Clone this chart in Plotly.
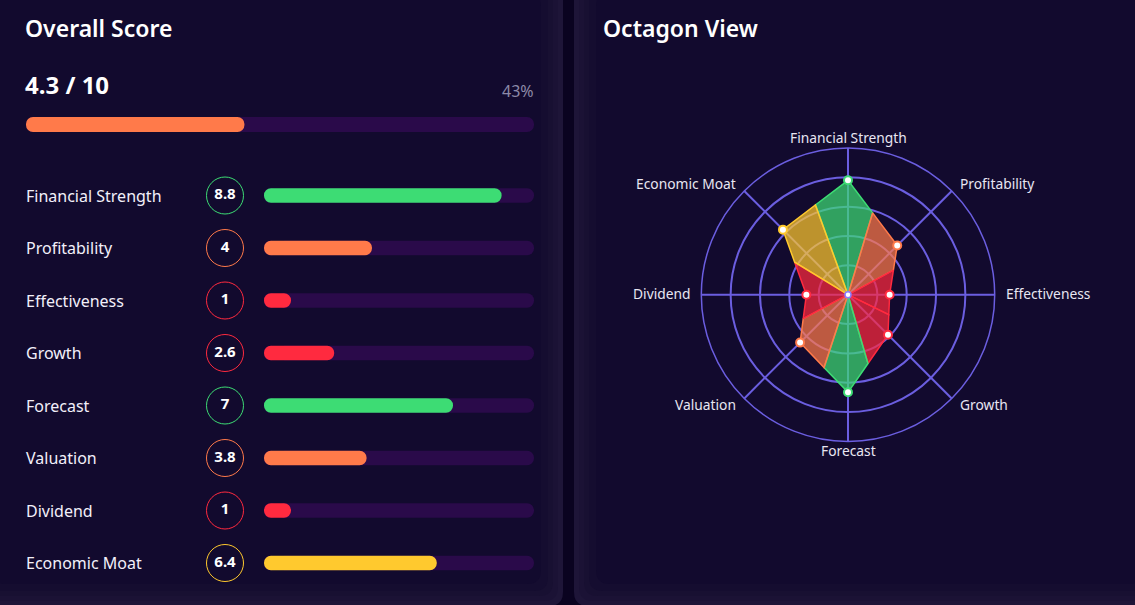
import numpy as np
import plotly.graph_objects as go

# scores
categories = ["Financial Strength", "Profitability", "Effectiveness", "Growth",
              "Forecast", "Valuation", "Dividend", "Economic Moat"]
scores = [8.8, 4, 1, 2.6, 7, 3.8, 1, 6.4]
max_score = 10

W, H = 1135, 605
BG = "#0a0320"
TRACK = "#2a0a4a"
GRID = "#6b5ee0"
FONT = "Noto Sans"


def score_color(v):
    if v >= 7:
        return "#3ddc74"
    if v >= 5:
        return "#ffc92e"
    if v >= 3:
        return "#ff7a4a"
    return "#ff2a3f"


def rgba(hex_color, a):
    h = hex_color.lstrip("#")
    return "rgba({},{},{},{})".format(int(h[0:2], 16), int(h[2:4], 16), int(h[4:6], 16), a)


def px(x):
    return x / W


def py(y):
    return 1 - y / H


def rounded_rect(x0, y0, x1, y1, r):
    # pixel box -> paper path with rounded corners
    rx, ry = r / W, r / H
    a, b, c, d = px(x0), py(y0), px(x1), py(y1)
    return ("M {},{} L {},{} Q {},{} {},{} L {},{} Q {},{} {},{} "
            "L {},{} Q {},{} {},{} L {},{} Q {},{} {},{} Z").format(
        a + rx, b, c - rx, b, c, b, c, b - ry, c, d + ry, c, d, c - rx, d,
        a + rx, d, a, d, a, d + ry, a, b - ry, a, b, a + rx, b)


overall = round(float(np.mean(scores)), 1)
rows = list(range(len(categories)))
colors = [score_color(v) for v in scores]
no_line = dict(width=0)
cap = 0.5  # short left piece of the track, so that its left end can be rounded too


def track_and_fill(ys, vals, cols, width, xa, ya):
    k = len(ys)
    fig.add_trace(go.Bar(y=ys, x=[max_score - cap] * k, base=[cap] * k, orientation="h", width=width,
                         marker=dict(color=TRACK, cornerradius=7, line=no_line),
                         xaxis=xa, yaxis=ya, hoverinfo="skip", showlegend=False))
    fig.add_trace(go.Bar(y=ys, x=[-cap] * k, base=[cap] * k, orientation="h", width=width,
                         marker=dict(color=TRACK, cornerradius=7, line=no_line),
                         xaxis=xa, yaxis=ya, hoverinfo="skip", showlegend=False))
    fig.add_trace(go.Bar(y=ys, x=[-v for v in vals], base=vals, orientation="h", width=width,
                         marker=dict(color=cols, cornerradius=7, line=no_line),
                         xaxis=xa, yaxis=ya, hoverinfo="skip", showlegend=False))


fig = go.Figure()

track_and_fill(rows, scores, colors, 0.28, "x", "y")
track_and_fill([0], [overall], [score_color(overall)], 1, "x2", "y2")

# ---- score badges
fig.add_trace(go.Scatter(
    x=[0.5] * len(rows), y=rows, mode="markers+text",
    text=["{:g}".format(v) for v in scores], textposition="middle center",
    textfont=dict(family=FONT, size=15, color="white", weight="bold"),
    marker=dict(size=37, color="rgba(0,0,0,0)", line=dict(width=1, color=colors)),
    xaxis="x3", yaxis="y", hoverinfo="skip", showlegend=False))

# ---- radar, one wedge per axis
r_min, r_max = -3.46, 12.26
n = len(categories)
ang = np.arange(n) * 360 / n
d = np.array(scores) - r_min
pts = np.c_[d * np.cos(np.radians(ang)), d * np.sin(np.radians(ang))]


def to_polar(p):
    return np.hypot(p[0], p[1]) + r_min, np.degrees(np.arctan2(p[1], p[0])) % 360


for i in range(n):
    m_prev = to_polar((pts[i - 1] + pts[i]) / 2)
    m_next = to_polar((pts[i] + pts[(i + 1) % n]) / 2)
    rr = [r_min, m_prev[0], scores[i], m_next[0], r_min]
    tt = [ang[i], m_prev[1], ang[i], m_next[1], ang[i]]
    fig.add_trace(go.Scatterpolar(r=rr, theta=tt, mode="lines", fill="toself",
                                  fillcolor=rgba(colors[i], 0.72),
                                  line=dict(color=colors[i], width=1.5),
                                  hoverinfo="skip", showlegend=False))

fig.add_trace(go.Scatterpolar(r=scores, theta=ang, mode="markers",
                              marker=dict(size=8, color="white", line=dict(width=2, color=colors)),
                              hoverinfo="skip", showlegend=False))
fig.add_trace(go.Scatterpolar(r=[r_min], theta=[0], mode="markers",
                              marker=dict(size=6, color="white", line=dict(width=1.5, color="#8a7cff")),
                              hoverinfo="skip", showlegend=False))

# ---- card backgrounds with a soft lighter rim
shapes = []
glow = [(0, "#1e1538"), (5, "#1b1235"), (10, "#181032"), (15, "#150d30"), (22, "#120a2e")]
for box in [(-30, -30, 563, 606), (574, -30, 1165, 606)]:
    for inset, col in glow:
        shapes.append(dict(type="path", xref="paper", yref="paper", layer="below",
                           path=rounded_rect(box[0] + inset, box[1] + inset,
                                             box[2] - inset, box[3] - inset, 14),
                           fillcolor=col, line=dict(width=0)))

annotations = []
for k, name in enumerate(categories):
    annotations.append(dict(x=px(24), y=k, xref="paper", yref="y", text=name, showarrow=False,
                            xanchor="left", yanchor="middle",
                            font=dict(family=FONT, size=16, color="#f2f0fa")))

# radar axis names, set just outside the outer ring
cx, cy, R = 848, 294.7, 146.7
for name, a in zip(categories, ang):
    s, c = np.sin(np.radians(a)), np.cos(np.radians(a))
    side = "center" if abs(s) < 0.1 else ("left" if s > 0 else "right")
    nudge = {"center": 0, "left": -2, "right": 2}[side]
    annotations.append(dict(x=px(cx + (R + 11) * s + nudge), y=py(cy - (R + 10) * c - 0.8),
                            xref="paper", yref="paper", text=name, showarrow=False,
                            xanchor=side, yanchor="middle",
                            font=dict(family=FONT, size=13.8, color="#e8e6f2")))

heads = [
    dict(x=px(23), y=py(28), text="Overall Score", font=dict(family=FONT, size=23, color="white", weight=600)),
    dict(x=px(23), y=py(85), text="{:g} / {}".format(overall, max_score),
         font=dict(family=FONT, size=24, color="white", weight="bold")),
    dict(x=px(536), y=py(91), text="{:.0%}".format(overall / max_score), xanchor="right",
         font=dict(family=FONT, size=16, color="#8c89a8")),
    dict(x=px(601), y=py(28), text="Octagon View", font=dict(family=FONT, size=23, color="white", weight=600)),
]
for a in heads:
    a.update(xref="paper", yref="paper", showarrow=False, yanchor="middle")
    a.setdefault("xanchor", "left")
annotations += heads

fig.update_layout(
    width=W, height=H, margin=dict(l=0, r=0, t=0, b=0),
    paper_bgcolor=BG, plot_bgcolor="rgba(0,0,0,0)", barmode="overlay",
    shapes=shapes, annotations=annotations,
    xaxis=dict(domain=[px(264), px(534)], range=[0, max_score], visible=False, fixedrange=True),
    yaxis=dict(domain=[py(563 + 26.25), py(195.5 - 26.25)], range=[n - 0.5, -0.5],
               visible=False, fixedrange=True),
    xaxis2=dict(domain=[px(26), px(534)], range=[0, max_score], visible=False, anchor="y2"),
    yaxis2=dict(domain=[py(132), py(117)], range=[-0.5, 0.5], visible=False, anchor="x2"),
    xaxis3=dict(domain=[px(206), px(244)], range=[0, 1], visible=False, anchor="y"),
    polar=dict(
        domain=dict(x=[px(cx - R), px(cx + R)], y=[py(cy + R), py(cy - R)]),
        bgcolor="rgba(0,0,0,0)",
        radialaxis=dict(range=[r_min, r_max], tickvals=list(np.linspace(r_min, r_max, 6)[1:]),
                        showticklabels=False, ticks="", showline=False,
                        gridcolor=GRID, gridwidth=1.5),
        angularaxis=dict(rotation=90, direction="clockwise", tickmode="array",
                         tickvals=list(ang), showticklabels=False, ticks="",
                         showline=True, linecolor=GRID, linewidth=1.5,
                         gridcolor=GRID, gridwidth=1.5),
    ),
)

fig.write_html("out.html", config={"displayModeBar": False},
               post_script="document.body.style.margin='0px';document.body.style.background='#0a0320';")
